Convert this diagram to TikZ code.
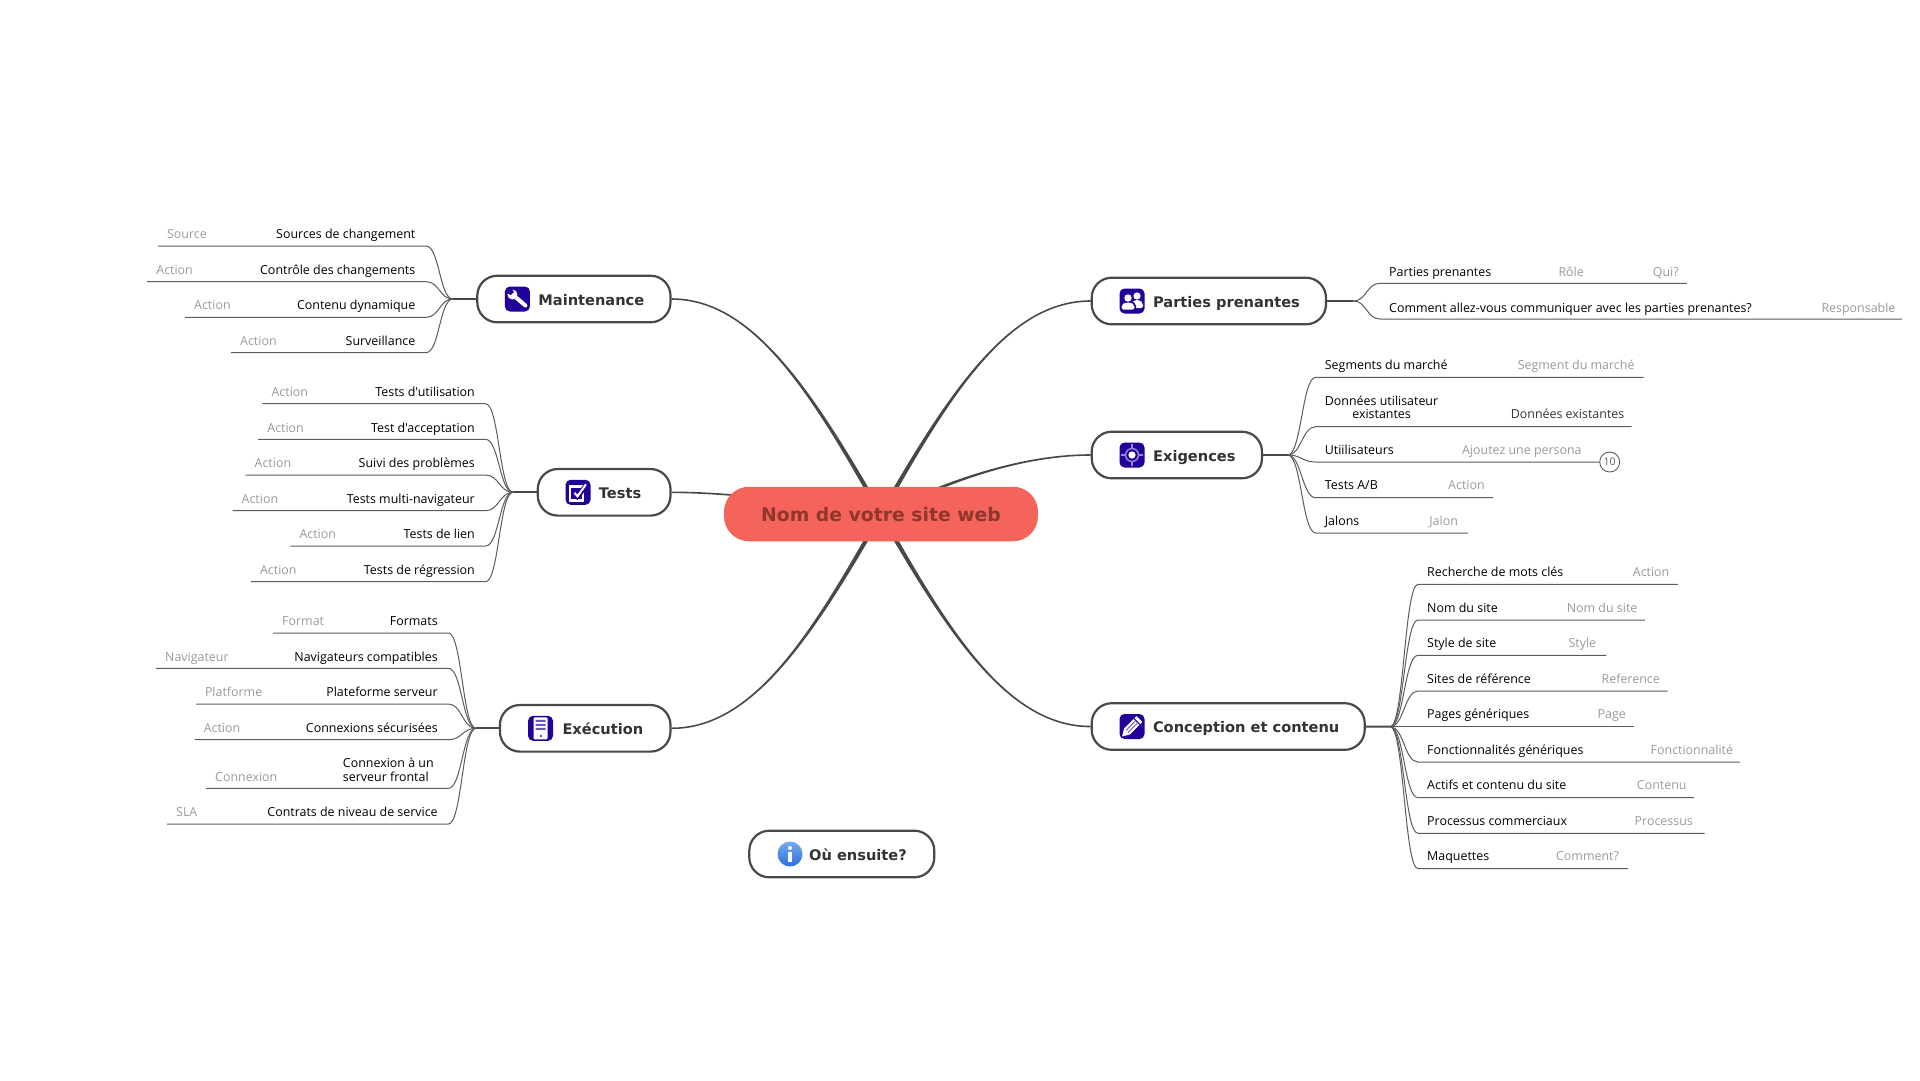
\documentclass[tikz,border=0pt]{standalone}
\usepackage{fontspec}
\usetikzlibrary{calc,backgrounds}
\setmainfont{Open Sans}
\newfontfamily\smallf{Open Sans}
\newfontfamily\branchf{DejaVu Sans}
\definecolor{lineC}{HTML}{484848}
\definecolor{thinC}{HTML}{5C5C5C}
\definecolor{greyT}{HTML}{9A9A9A}
\definecolor{rootC}{HTML}{F4645A}
\definecolor{rootT}{HTML}{8F362F}
\definecolor{iconC}{HTML}{22009A}
\definecolor{iconL}{HTML}{6A55C8}
\definecolor{branchT}{HTML}{333333}
\definecolor{infoA}{HTML}{78AAEE}
\definecolor{infoB}{HTML}{2E6FDE}
\tikzset{
  smalltext/.style={font=\smallf\fontsize{12.43}{13.6}\selectfont,inner sep=0pt},
  maintext/.style={smalltext,text=black},
  sectext/.style={smalltext,text=greyT},
  branchbox/.style={draw=lineC,line width=2.2pt,fill=white,rounded corners=20pt,minimum height=46.6pt,inner sep=0pt},
  branchlabel/.style={font=\branchf\bfseries\fontsize{14.6}{16}\selectfont,text=branchT,inner sep=0pt,anchor=base west},
  rootbox/.style={fill=rootC,rounded corners=25pt,minimum height=54.5pt,minimum width=314pt,inner sep=0pt,text=rootT,font=\branchf\bfseries\fontsize{18.8}{22}\selectfont},
  iconbox/.style={fill=iconC,rounded corners=5pt,minimum size=25pt,inner sep=0pt},
  mainline/.style={fill=lineC},
  hubline/.style={draw=lineC,line width=2pt},
  subline/.style={draw=thinC,line width=1pt},
  badge/.style={circle,draw=thinC,line width=0.9pt,fill=white,minimum size=20pt,inner sep=0pt,text=thinC,font=\smallf\fontsize{10.5}{12}\selectfont},
}
\newcommand{\taper}[6]{\fill[mainline] ($(root.center)+(#4,#5)$) .. controls ($(#2)+0.6*(#4,#5)$) and ($(#3)+(0,#6*0.8)$) .. ($(#1)+(0,#6*0.8)$) -- ($(#1)-(0,#6*0.8)$) .. controls ($(#3)-(0,#6*0.8)$) and ($(#2)-0.6*(#4,#5)$) .. ($(root.center)-(#4,#5)$) -- cycle;}
\newcommand{\twol}[2]{\begin{tabular}[b]{@{}l@{}}#1\\#2\end{tabular}}
\newcommand{\twoc}[2]{\begin{tabular}[b]{@{}c@{}}#1\\#2\end{tabular}}
% left-hand item: id, hub, underline y, left end, main text, second text
\newcommand{\itemL}[6]{%
  \coordinate (#1e) at (\ex,#3);
  \coordinate (#1l) at (#4,#3);
  \draw[subline] (#2) .. controls ($(#2)+(-13.5,0)$) and ($(#1e)+(13.5,0)$) .. (#1e) -- (#1l);
  \node[maintext,anchor=base east] (#1m) at ($(#1e)+(-10.5,\by)$) {#5};
  \node[sectext,anchor=base west] (#1s) at ($(#1l)+(9,\by)$) {#6};
}
% right-hand item: id, hub, underline y, right end, main text, second x, second text
\newcommand{\itemR}[7]{%
  \coordinate (#1e) at (\ex,#3);
  \coordinate (#1l) at (#4,#3);
  \draw[subline] (#2) .. controls ($(#2)+(13.5,0)$) and ($(#1e)+(-13.5,0)$) .. (#1e) -- (#1l);
  \node[maintext,anchor=base west] (#1m) at ($(#1e)+(9,\by)$) {#5};
  \node[sectext,anchor=base west] (#1s) at (#6,#3+\by) {#7};
}
\begin{document}
\begin{tikzpicture}[x=1pt,y=-1pt]
\useasboundingbox (0,0) rectangle (1920,1080);
% root and branches
\node[rootbox] (root) at (881,514) {Nom de votre site web};
\node[branchbox,minimum width=193.2pt] (maint) at (573.9,299) {};
\node[branchbox,minimum width=132.7pt] (tests) at (604.15,492.3) {};
\node[branchbox,minimum width=170.6pt] (exec) at (585.2,728.3) {};
\node[branchbox,minimum width=234.3pt] (part) at (1208.85,301) {};
\node[branchbox,minimum width=170.3pt] (exig) at (1176.85,455) {};
\node[branchbox,minimum width=273pt] (conc) at (1228.2,726.5) {};
\node[branchbox,minimum width=185pt] (next) at (841.8,854) {};
\begin{scope}[on background layer]
\taper{conc.west}{951,638}{1010,726.5}{2}{-1.1}{-1}
\taper{part.west}{951,390}{1010,301}{2}{1.1}{1}
\taper{exig.west}{930,490}{1010,455}{0.8}{2}{1}
\taper{maint.east}{811,390}{752,299}{2}{-1.1}{-1}
\taper{exec.east}{811,638}{752,728.3}{2}{1.1}{1}
\taper{tests.east}{800,500}{720,492.3}{0}{-1.5}{-1}
\end{scope}
\node[branchlabel] (maintL) at (538.2,305.2) {Maintenance};
\node[branchlabel] (testsL) at (598.7,498.3) {Tests};
\node[branchlabel] (execL) at (562.3,734) {Exécution};
\node[branchlabel] (partL) at (1152.9,307) {Parties prenantes};
\node[branchlabel] (exigL) at (1152.9,461) {Exigences};
\node[branchlabel] (concL) at (1152.8,732.2) {Conception et contenu};
\node[branchlabel] (nextL) at (809,860) {Où ensuite?};
% icons
\node[iconbox] (icM) at (517.4,299) {};
\begin{scope}[shift={(icM.center)}]
  \draw[white,line width=4pt,line cap=round] (-2,-2) -- (8,6.5);
  \fill[white] (-5,-4.5) circle (5);
  \fill[iconC] (-12,-6.5) -- (-6.5,-11.5) -- (-3.5,-7) -- (-6.5,-4) -- cycle;
\end{scope}
\node[iconbox] (icT) at (578,492.3) {};
\begin{scope}[shift={(icT.center)}]
  \draw[white,line width=2.4pt] (-8,-6) rectangle (5,8);
  \draw[iconC,line width=5pt] (-3,1) -- (-0.5,4) -- (10,-9);
  \draw[white,line width=2pt] (-3.5,0.5) -- (-0.5,4) -- (8,-8);
\end{scope}
\node[iconbox] (icE) at (540.5,728.3) {};
\begin{scope}[shift={(icE.center)}]
  \fill[white,rounded corners=1pt] (-7,-11) rectangle (7,11);
  \fill[iconL] (-5,-8.5) rectangle (5,-6.5) (-5,-4.5) rectangle (5,-2.5) (-5,-0.5) rectangle (5,1.5);
  \fill[iconL] (-1,7) rectangle (1,9);
\end{scope}
\node[iconbox] (icP) at (1132,301) {};
\begin{scope}[shift={(icP.center)}]
  \fill[white] (5,-5) circle (3.6);
  \fill[white,rounded corners=2pt] (0,7) -- (0,1) -- (3,-1) -- (7.5,-1) -- (11,2) -- (11,7) -- cycle;
  \fill[iconC] (-4,-2) circle (4.8);
  \fill[iconC,rounded corners=2pt] (-12,10) -- (-12,3) -- (-7,0) -- (0,0) -- (4,3) -- (4,10) -- cycle;
  \fill[white] (-4,-3) circle (3.7);
  \fill[white,rounded corners=2pt] (-10.5,8.5) -- (-10.5,4) -- (-7,1.5) -- (-1,1.5) -- (2.5,4) -- (2.5,8.5) -- cycle;
\end{scope}
\node[iconbox] (icX) at (1132,455) {};
\begin{scope}[shift={(icX.center)}]
  \draw[iconL!70!white,line width=1.4pt] (0,0) circle (6.5);
  \fill[white] (0,0) circle (3.6);
  \draw[iconL!70!white,line width=1.2pt] (0,-11) -- (0,-6.5) (0,6.5) -- (0,11) (-11,0) -- (-6.5,0) (6.5,0) -- (11,0);
\end{scope}
\node[iconbox] (icC) at (1132,726.5) {};
\begin{scope}[shift={(icC.center)}]
  \begin{scope}[rotate=45]
    \fill[white] (-7,-4.2) rectangle (10.5,4.2);
    \fill[white] (-7,-4.2) -- (-14,0) -- (-7,4.2) -- cycle;
    \draw[iconL,line width=0.9pt] (-7,-1.4) -- (6,-1.4) (-7,1.4) -- (6,1.4);
    \draw[iconC,line width=1.1pt] (7,-4.2) -- (7,4.2);
  \end{scope}
\end{scope}
\node[circle,minimum size=25pt,inner sep=0pt,top color=infoA,bottom color=infoB] (icN) at (790,854) {};
\begin{scope}[shift={(icN.center)}]
  \fill[white] (-1.6,-2.5) rectangle (1.6,8);
  \fill[white] (0,-6) circle (2);
\end{scope}
% Maintenance
\coordinate (hm) at (453,299);
\draw[hubline] (maint.west) -- (hm);
\def\ex{426}
\def\by{-7.5}
\itemL{ma}{hm}{246}{157.9}{Sources de changement}{Source}
\itemL{mb}{hm}{281.7}{147.2}{Contrôle des changements}{Action}
\itemL{mc}{hm}{317.3}{185}{Contenu dynamique}{Action}
\itemL{md}{hm}{352.7}{231}{Surveillance}{Action}
% Tests
\coordinate (ht) at (513,492.3);
\draw[hubline] (tests.west) -- (ht);
\def\ex{485.5}
\def\by{-7.2}
\itemL{ta}{ht}{403.7}{262.4}{Tests d'utilisation}{Action}
\itemL{tb}{ht}{439.3}{258.2}{Test d'acceptation}{Action}
\itemL{tc}{ht}{475}{245.5}{Suivi des problèmes}{Action}
\itemL{td}{ht}{510.7}{232.5}{Tests multi-navigateur}{Action}
\itemL{te}{ht}{546}{290.3}{Tests de lien}{Action}
\itemL{tf}{ht}{581.7}{250.9}{Tests de régression}{Action}
% Execution
\coordinate (he) at (476,728.3);
\draw[hubline] (exec.west) -- (he);
\def\ex{448.4}
\def\by{-7.1}
\itemL{ea}{he}{633}{273}{Formats}{Format}
\itemL{eb}{he}{668.3}{156}{Navigateurs compatibles}{Navigateur}
\itemL{ec}{he}{704}{195.8}{Plateforme serveur}{Platforme}
\itemL{ed}{he}{739.7}{194.6}{Connexions sécurisées}{Action}
\itemL{ee}{he}{788.3}{206}{\twol{Connexion à un}{serveur frontal}\kern4pt}{Connexion}
\itemL{ef}{he}{824}{167}{Contrats de niveau de service}{SLA}
% Parties prenantes
\coordinate (hp) at (1353.2,301);
\draw[hubline] (part.east) -- (hp);
\def\ex{1380}
\def\by{-6.7}
\itemR{pa}{hp}{283.3}{1686.9}{Parties prenantes}{1652.6}{Qui?}
\node[sectext,anchor=base west] (paR) at (1558.3,276.6) {Rôle};
\itemR{pb}{hp}{319}{1902}{Comment allez-vous communiquer avec les parties prenantes?}{1821.3}{Responsable}
% Exigences
\coordinate (hx) at (1287.8,455);
\draw[hubline] (exig.east) -- (hx);
\def\ex{1315.7}
\def\by{-8}
\itemR{xa}{hx}{377.3}{1643.5}{Segments du marché}{1517.6}{Segment du marché}
\itemR{xb}{hx}{426.7}{1631.7}{\twoc{Données utilisateur}{existantes}}{1510.6}{\textcolor{black!80}{Données existantes}}
\node[badge] (xbadge) at (1609.7,462) {10};
\itemR{xc}{hx}{462}{1599.7}{Utiilisateurs}{1461.9}{Ajoutez une persona}
\itemR{xd}{hx}{497.7}{1493}{Tests A/B}{1448}{Action}
\itemR{xe}{hx}{533}{1467.8}{Jalons}{1429.2}{Jalon}
% Conception
\coordinate (hc) at (1390.3,726.7);
\draw[hubline] (conc.east) -- (hc);
\def\ex{1418}
\def\by{-8}
\itemR{ca}{hc}{584.3}{1677.8}{Recherche de mots clés}{1632.7}{Action}
\itemR{cb}{hc}{620}{1645}{Nom du site}{1566.6}{Nom du site}
\itemR{cc}{hc}{655.3}{1606.3}{Style de site}{1568.4}{Style}
\itemR{cd}{hc}{691}{1667.5}{Sites de référence}{1601.4}{Reference}
\itemR{ce}{hc}{726.7}{1634}{Pages génériques}{1597.4}{Page}
\itemR{cf}{hc}{762}{1739.8}{Fonctionnalités génériques}{1650.5}{Fonctionnalité}
\itemR{cg}{hc}{797.7}{1693.8}{Actifs et contenu du site}{1636.7}{Contenu}
\itemR{ch}{hc}{833.3}{1704.6}{Processus commerciaux}{1634.5}{Processus}
\itemR{ci}{hc}{868.7}{1627.8}{Maquettes}{1555.9}{Comment?}
\end{tikzpicture}
\end{document}
